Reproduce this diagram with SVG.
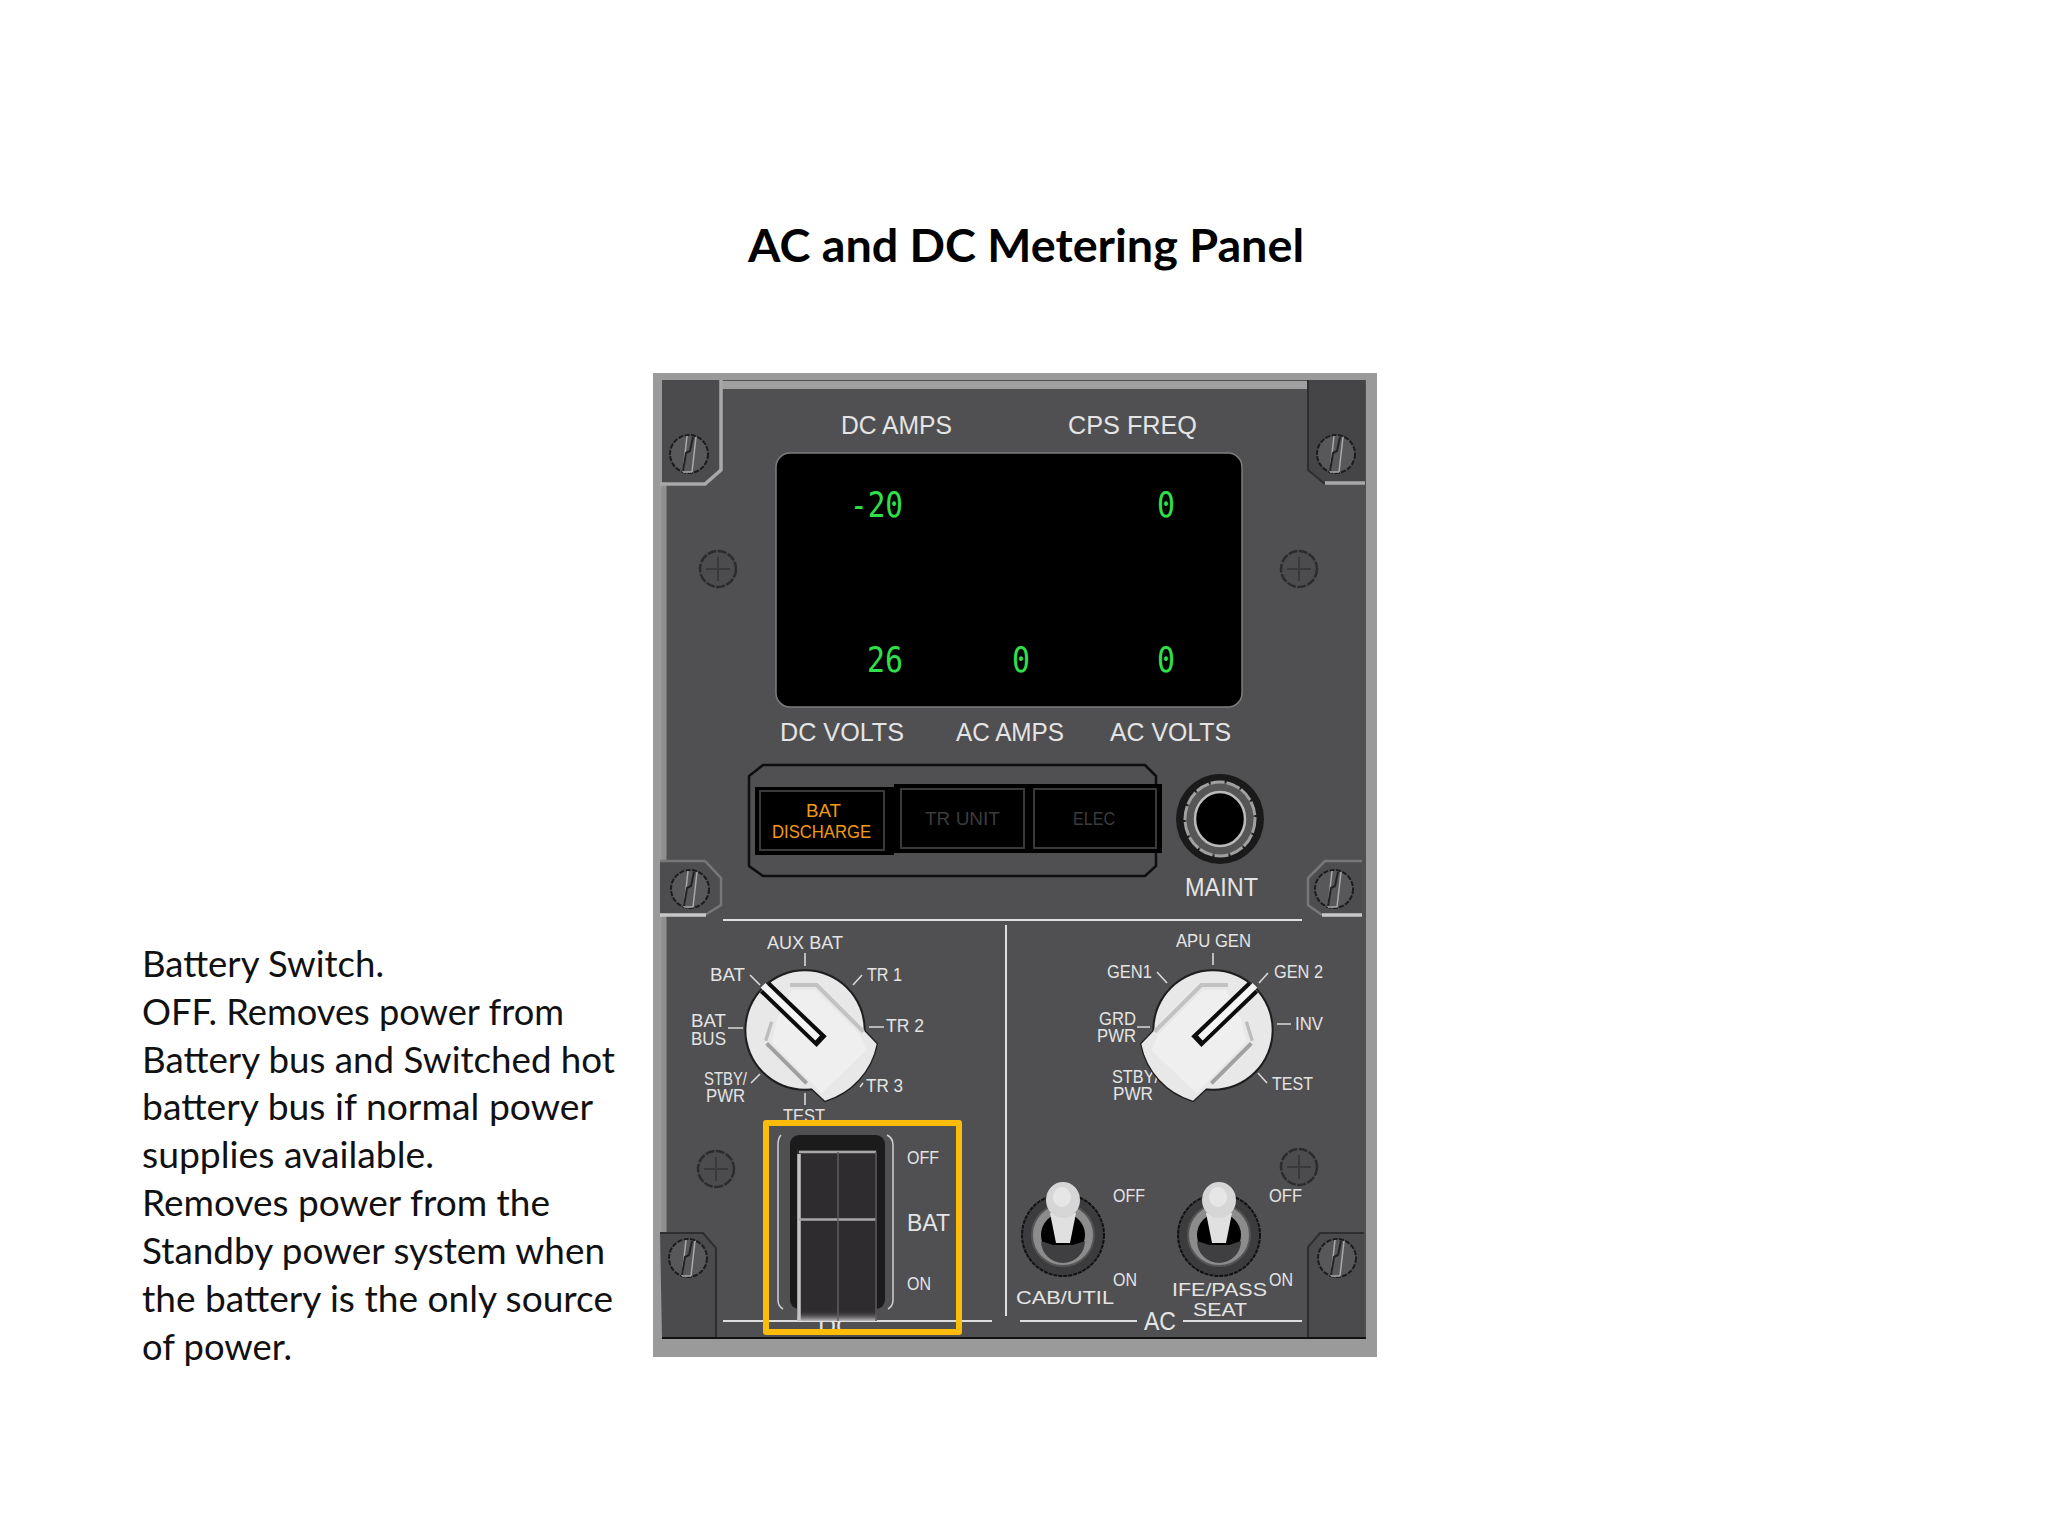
<svg xmlns="http://www.w3.org/2000/svg" xmlns:xlink="http://www.w3.org/1999/xlink" width="2048" height="1536" viewBox="0 0 2048 1536">
<style>
.title{font-family:Lato,"Liberation Sans",sans-serif;font-weight:700;font-size:46px;fill:#000}
.body{font-family:Lato,"Liberation Sans",sans-serif;font-size:37px;fill:#111}
text.p{font-family:"Liberation Sans",Arial,sans-serif;fill:#e4e4e4;font-size:19px}
text.m{font-size:26px}
text.s{font-size:18px}
text.d{font-family:"DejaVu Sans Mono",monospace;fill:#2fe04a;font-size:36px}
.w{stroke:#dedede;stroke-width:2;fill:none}
.t{stroke:#d8d8d8;stroke-width:1.6;fill:none}
.edge{stroke:#2e2e30;stroke-width:2;fill:none}
.hi{stroke:#a8a8a8;stroke-width:3.5;fill:none}
.box{stroke:#3a3a3a;stroke-width:2;fill:none}
</style>
<defs>
<g id="screw"><circle r="19" fill="#58585a" stroke="#1c1c1c" stroke-width="2" stroke-dasharray="5 1.5"/><path d="M-2 -18L-6 18M7 -17L3 18M-6 18L3 18" stroke="#aaa" stroke-width="1.5" fill="none"/><path d="M4 -17L1 -3L-3 -1L-6 17" stroke="#222" stroke-width="2" fill="none"/></g>
<g id="bolt"><circle r="18" fill="#4c4c4e" stroke="#2c2c2c" stroke-width="2.5" stroke-dasharray="9 1.5"/><path d="M-12 0H12M0 -12V12" stroke="#39393b" stroke-width="2"/></g>
<g id="knob" transform="scale(.3333)">
<circle r="178" fill="#1e1e1e" stroke="#1e1e1e" stroke-width="8"/>
<path d="M170 -5L215 42A222 222 0 0 1 60 212L20 175Z" fill="#1e1e1e" stroke="#1e1e1e" stroke-width="8" stroke-linejoin="round"/>
<circle r="176" fill="#e8e8e8"/>
<path d="M170 -5L215 42A222 222 0 0 1 60 212L20 175Z" fill="#e8e8e8"/>
<path d="M-100 35L-85 -30L-40 -120L30 -120L165 15L185 60L50 190Z" fill="#efefef"/>
<path d="M-115 40L5 160" stroke="#a0a0a0" stroke-width="12"/>
<path d="M-100 -25L-118 32" stroke="#bcbcbc" stroke-width="10"/>
<path d="M-45 -135L35 -135L175 5" stroke="#c2c2c2" stroke-width="12" fill="none"/>
<path d="M-120 -128L50 35" stroke="#0c0c0c" stroke-width="44"/>
<path d="M-126 -134L38 24" stroke="#f4f4f4" stroke-width="20"/>
</g>
<g id="toggle">
<circle r="41" fill="#3c3c3e" stroke="#111" stroke-width="2" stroke-dasharray="4 1"/>
<circle r="31" fill="#8c8c8c" stroke="#555" stroke-width="2"/>
<circle r="22" fill="#000"/>
<path d="M-22 6A22 22 0 0 0 22 6L10 10H-10Z" fill="#3f3f41"/>
<path d="M-13 -22L13 -22L7 8H-7Z" fill="#e0e0e0"/>
<ellipse cy="-35" rx="17" ry="18" fill="#d6d6d6"/>
<ellipse cx="-1" cy="-38" rx="9" ry="10" fill="#e6e6e6"/>
</g>
<linearGradient id="fade" x1="0" y1="0" x2="0" y2="1"><stop offset="0" stop-color="#2e2c2e" stop-opacity="0"/><stop offset="1" stop-color="#bdbdbd"/></linearGradient>
</defs>
<rect width="2048" height="1536" fill="#fff"/>
<g id="heading"><text class="title" x="1026" y="262" text-anchor="middle" textLength="556" lengthAdjust="spacingAndGlyphs">AC and DC Metering Panel</text></g>
<g id="description">
<text class="body" x="142" y="977" textLength="242" lengthAdjust="spacingAndGlyphs">Battery Switch.</text>
<text class="body" x="142" y="1025" textLength="422" lengthAdjust="spacingAndGlyphs">OFF. Removes power from</text>
<text class="body" x="142" y="1073" textLength="473" lengthAdjust="spacingAndGlyphs">Battery bus and Switched hot</text>
<text class="body" x="142" y="1120" textLength="451" lengthAdjust="spacingAndGlyphs">battery bus if normal power</text>
<text class="body" x="142" y="1168" textLength="292" lengthAdjust="spacingAndGlyphs">supplies available.</text>
<text class="body" x="142" y="1216" textLength="408" lengthAdjust="spacingAndGlyphs">Removes power from the</text>
<text class="body" x="142" y="1264" textLength="463" lengthAdjust="spacingAndGlyphs">Standby power system when</text>
<text class="body" x="142" y="1312" textLength="471" lengthAdjust="spacingAndGlyphs">the battery is the only source</text>
<text class="body" x="142" y="1360" textLength="150" lengthAdjust="spacingAndGlyphs">of power.</text>
</g>
<g id="panel">
<rect x="653" y="373" width="724" height="984" fill="#9a9a9a"/>
<rect x="662" y="380" width="704" height="958" fill="#505052"/>
<path d="M721 385H1308" stroke="#a0a0a0" stroke-width="8"/>
<path d="M662 1338H1366" stroke="#111" stroke-width="2"/>
<path d="M664 484V1233" stroke="#8e8e8e" stroke-width="5"/>
</g>
<g id="corner-tl"><path d="M662 380H721V470L705 484H662Z" fill="#4b4b4d"/><path class="hi" d="M721 380V470L705 484H660"/><use href="#screw" x="689" y="454"/></g>
<g id="corner-tr"><path d="M1308 380H1365V484H1325L1308 470Z" fill="#454547"/><path class="edge" d="M1308 380V470L1325 484"/><path class="hi" d="M1325 483H1365"/><use href="#screw" x="1336" y="454"/></g>
<g id="corner-ml"><path d="M660 861H705L721 878V905L705 915H660Z" fill="#4d4d4f"/><path stroke="#777" stroke-width="2.500" fill="none" d="M660 861H705L721 878V905L705 915"/><path class="hi" style="stroke:#c8c8c8" d="M660 915H706"/><use href="#screw" x="690" y="889"/></g>
<g id="corner-mr"><path d="M1362 861H1325L1308 878V905L1322 915H1362Z" fill="#4d4d4f"/><path stroke="#777" stroke-width="2.500" fill="none" d="M1362 861H1325L1308 878V905L1322 915"/><path class="hi" style="stroke:#c8c8c8" d="M1322 915H1362"/><use href="#screw" x="1334" y="889"/></g>
<g id="corner-bl"><path d="M660 1233H703L716 1248V1337H662Z" fill="#4b4b4d"/><path class="edge" d="M660 1233H703L716 1248V1337"/><use href="#screw" x="688" y="1258"/></g>
<g id="corner-br"><path d="M1364 1233H1320L1308 1247V1337H1364Z" fill="#4b4b4d"/><path class="edge" d="M1364 1233H1320L1308 1247V1337"/><use href="#screw" x="1337" y="1258"/></g>
<g id="bolts"><use href="#bolt" x="718" y="569"/><use href="#bolt" x="1299" y="569"/><use href="#bolt" x="716" y="1169"/><use href="#bolt" x="1299" y="1167"/></g>
<g id="display">
<rect x="776" y="453" width="466" height="254" rx="14" fill="#000" stroke="#7c7c7c" stroke-width="1.5"/>
<text class="p m" x="841" y="434" textLength="111" lengthAdjust="spacingAndGlyphs">DC AMPS</text>
<text class="p m" x="1068" y="434" textLength="129" lengthAdjust="spacingAndGlyphs">CPS FREQ</text>
<text class="p m" x="780" y="741" textLength="124" lengthAdjust="spacingAndGlyphs">DC VOLTS</text>
<text class="p m" x="956" y="741" textLength="108" lengthAdjust="spacingAndGlyphs">AC AMPS</text>
<text class="p m" x="1110" y="741" textLength="121" lengthAdjust="spacingAndGlyphs">AC VOLTS</text>
<text class="d" x="850" y="517" textLength="53" lengthAdjust="spacingAndGlyphs">-20</text>
<text class="d" x="1157" y="517" textLength="18" lengthAdjust="spacingAndGlyphs">0</text>
<text class="d" x="867" y="672" textLength="36" lengthAdjust="spacingAndGlyphs">26</text>
<text class="d" x="1012" y="672" textLength="18" lengthAdjust="spacingAndGlyphs">0</text>
<text class="d" x="1157" y="672" textLength="18" lengthAdjust="spacingAndGlyphs">0</text>
</g>
<g id="annunciators">
<path d="M763 765H1145L1156 776V866L1145 876H763L749 866V776Z" fill="#505052" stroke="#0e0e0e" stroke-width="2.500"/>
<rect x="755" y="787" width="139" height="68" fill="#000"/>
<rect x="894" y="784" width="268" height="69" fill="#000"/>
<rect x="760" y="791" width="124" height="59" class="box"/>
<rect x="901" y="789" width="123" height="59" class="box"/>
<rect x="1034" y="789" width="122" height="59" class="box"/>
<text class="p s" x="806" y="817" textLength="35" lengthAdjust="spacingAndGlyphs" style="fill:#f29a12">BAT</text>
<text class="p s" x="772" y="838" textLength="99" lengthAdjust="spacingAndGlyphs" style="fill:#f29a12">DISCHARGE</text>
<text class="p s" x="925" y="825" textLength="75" lengthAdjust="spacingAndGlyphs" style="fill:#3c3c3c">TR UNIT</text>
<text class="p s" x="1073" y="825" textLength="42" lengthAdjust="spacingAndGlyphs" style="fill:#3c3c3c">ELEC</text>
</g>
<g id="maint">
<ellipse cx="1220" cy="819" rx="44" ry="45" fill="#1a1a1a"/>
<ellipse cx="1220" cy="819" rx="35" ry="37" fill="#565656" stroke="#a0a0a0" stroke-width="3" stroke-dasharray="14 2"/>
<ellipse cx="1220" cy="819" rx="25" ry="27" fill="#000" stroke="#bbb" stroke-width="2.500"/>
<text class="p m" x="1185" y="896" textLength="73" lengthAdjust="spacingAndGlyphs">MAINT</text>
</g>
<g id="connectors">
<path class="w" d="M723 920H1302M1006 925V1316M723 1321H992M1020 1321H1137M1183 1321H1302"/>
<path class="t" d="M805 953V966M750 975L760 985M862 975L853 985M728 1028H743M869 1027H884M751 1083L760 1074M860 1087L863 1083M805 1093V1105"/>
<path class="t" d="M1213 953V965M1157 972L1167 983M1268 973L1259 983M1137 1027H1150M1277 1024H1291M1258 1073L1267 1083"/>
</g>
<g id="bat-selector">
<text class="p" x="767" y="949" textLength="76" lengthAdjust="spacingAndGlyphs">AUX BAT</text>
<text class="p" x="710" y="981" textLength="35" lengthAdjust="spacingAndGlyphs">BAT</text>
<text class="p" x="867" y="981" textLength="35" lengthAdjust="spacingAndGlyphs">TR 1</text>
<text class="p" x="691" y="1027" textLength="35" lengthAdjust="spacingAndGlyphs" style="font-size:18px">BAT</text>
<text class="p" x="691" y="1045" textLength="35" lengthAdjust="spacingAndGlyphs" style="font-size:18px">BUS</text>
<text class="p" x="886" y="1032" textLength="38" lengthAdjust="spacingAndGlyphs">TR 2</text>
<text class="p" x="704" y="1085" textLength="43" lengthAdjust="spacingAndGlyphs">STBY/</text>
<text class="p" x="706" y="1102" textLength="39" lengthAdjust="spacingAndGlyphs">PWR</text>
<text class="p" x="866" y="1092" textLength="37" lengthAdjust="spacingAndGlyphs">TR 3</text>
<text class="p" x="783" y="1122" textLength="42" lengthAdjust="spacingAndGlyphs">TEST</text>
<use href="#knob" x="805" y="1030"/>
</g>
<g id="ac-selector">
<text class="p" x="1176" y="947" textLength="75" lengthAdjust="spacingAndGlyphs">APU GEN</text>
<text class="p" x="1107" y="978" textLength="45" lengthAdjust="spacingAndGlyphs">GEN1</text>
<text class="p" x="1274" y="978" textLength="49" lengthAdjust="spacingAndGlyphs">GEN 2</text>
<text class="p" x="1099" y="1025" textLength="37" lengthAdjust="spacingAndGlyphs">GRD</text>
<text class="p" x="1097" y="1042" textLength="39" lengthAdjust="spacingAndGlyphs">PWR</text>
<text class="p" x="1295" y="1030" textLength="28" lengthAdjust="spacingAndGlyphs">INV</text>
<text class="p" x="1112" y="1083" textLength="47" lengthAdjust="spacingAndGlyphs">STBY/</text>
<text class="p" x="1113" y="1100" textLength="40" lengthAdjust="spacingAndGlyphs">PWR</text>
<text class="p" x="1272" y="1090" textLength="41" lengthAdjust="spacingAndGlyphs">TEST</text>
<use href="#knob" transform="translate(1213 1030) scale(-1 1)"/>
</g>
<g id="cab-util">
<use href="#toggle" x="1063" y="1235"/>
<text class="p" x="1113" y="1202" textLength="32" lengthAdjust="spacingAndGlyphs">OFF</text>
<text class="p" x="1113" y="1286" textLength="24" lengthAdjust="spacingAndGlyphs">ON</text>
<text class="p" x="1016" y="1304" textLength="98" lengthAdjust="spacingAndGlyphs">CAB/UTIL</text>
</g>
<g id="ife-pass">
<use href="#toggle" x="1219" y="1235"/>
<text class="p" x="1269" y="1202" textLength="33" lengthAdjust="spacingAndGlyphs">OFF</text>
<text class="p" x="1269" y="1286" textLength="24" lengthAdjust="spacingAndGlyphs">ON</text>
<text class="p" x="1172" y="1296" textLength="95" lengthAdjust="spacingAndGlyphs">IFE/PASS</text>
<text class="p" x="1193" y="1316" textLength="54" lengthAdjust="spacingAndGlyphs">SEAT</text>
<text class="p m" x="1144" y="1330" textLength="32" lengthAdjust="spacingAndGlyphs">AC</text>
</g>
<g id="bat-switch">
<text class="p m" x="818" y="1335" textLength="36" lengthAdjust="spacingAndGlyphs">DC</text>
<path d="M781 1135Q778 1138 778 1145V1300Q778 1306 783 1309M887 1135Q893 1138 893 1145V1300Q893 1306 888 1309" stroke="#d0d0d0" stroke-width="1.500" fill="none"/>
<rect x="790" y="1135" width="95" height="174" rx="9" fill="#1b1b1b"/>
<rect x="797" y="1150" width="80" height="171" fill="#2e2c2e"/>
<rect x="797" y="1310" width="80" height="11" fill="url(#fade)"/>
<path d="M799 1154V1321" stroke="#c4c4c4" stroke-width="3.500"/>
<path d="M799 1152H876M799 1219.500H876" stroke="#a8a8a8" stroke-width="2.500"/>
<path d="M838 1152V1321" stroke="#5e5e5e" stroke-width="1.500"/>
<path d="M876 1152V1321" stroke="#5a5a5a" stroke-width="1.500"/>
<text class="p" x="907" y="1164" textLength="32" lengthAdjust="spacingAndGlyphs">OFF</text>
<text class="p" x="907" y="1231" textLength="43" lengthAdjust="spacingAndGlyphs" style="font-size:23px">BAT</text>
<text class="p" x="907" y="1290" textLength="24" lengthAdjust="spacingAndGlyphs">ON</text>
</g>
<g id="highlight"><rect x="766" y="1123" width="193" height="209" fill="none" stroke="#fdbc0a" stroke-width="6" stroke-linejoin="round"/></g>
</svg>
